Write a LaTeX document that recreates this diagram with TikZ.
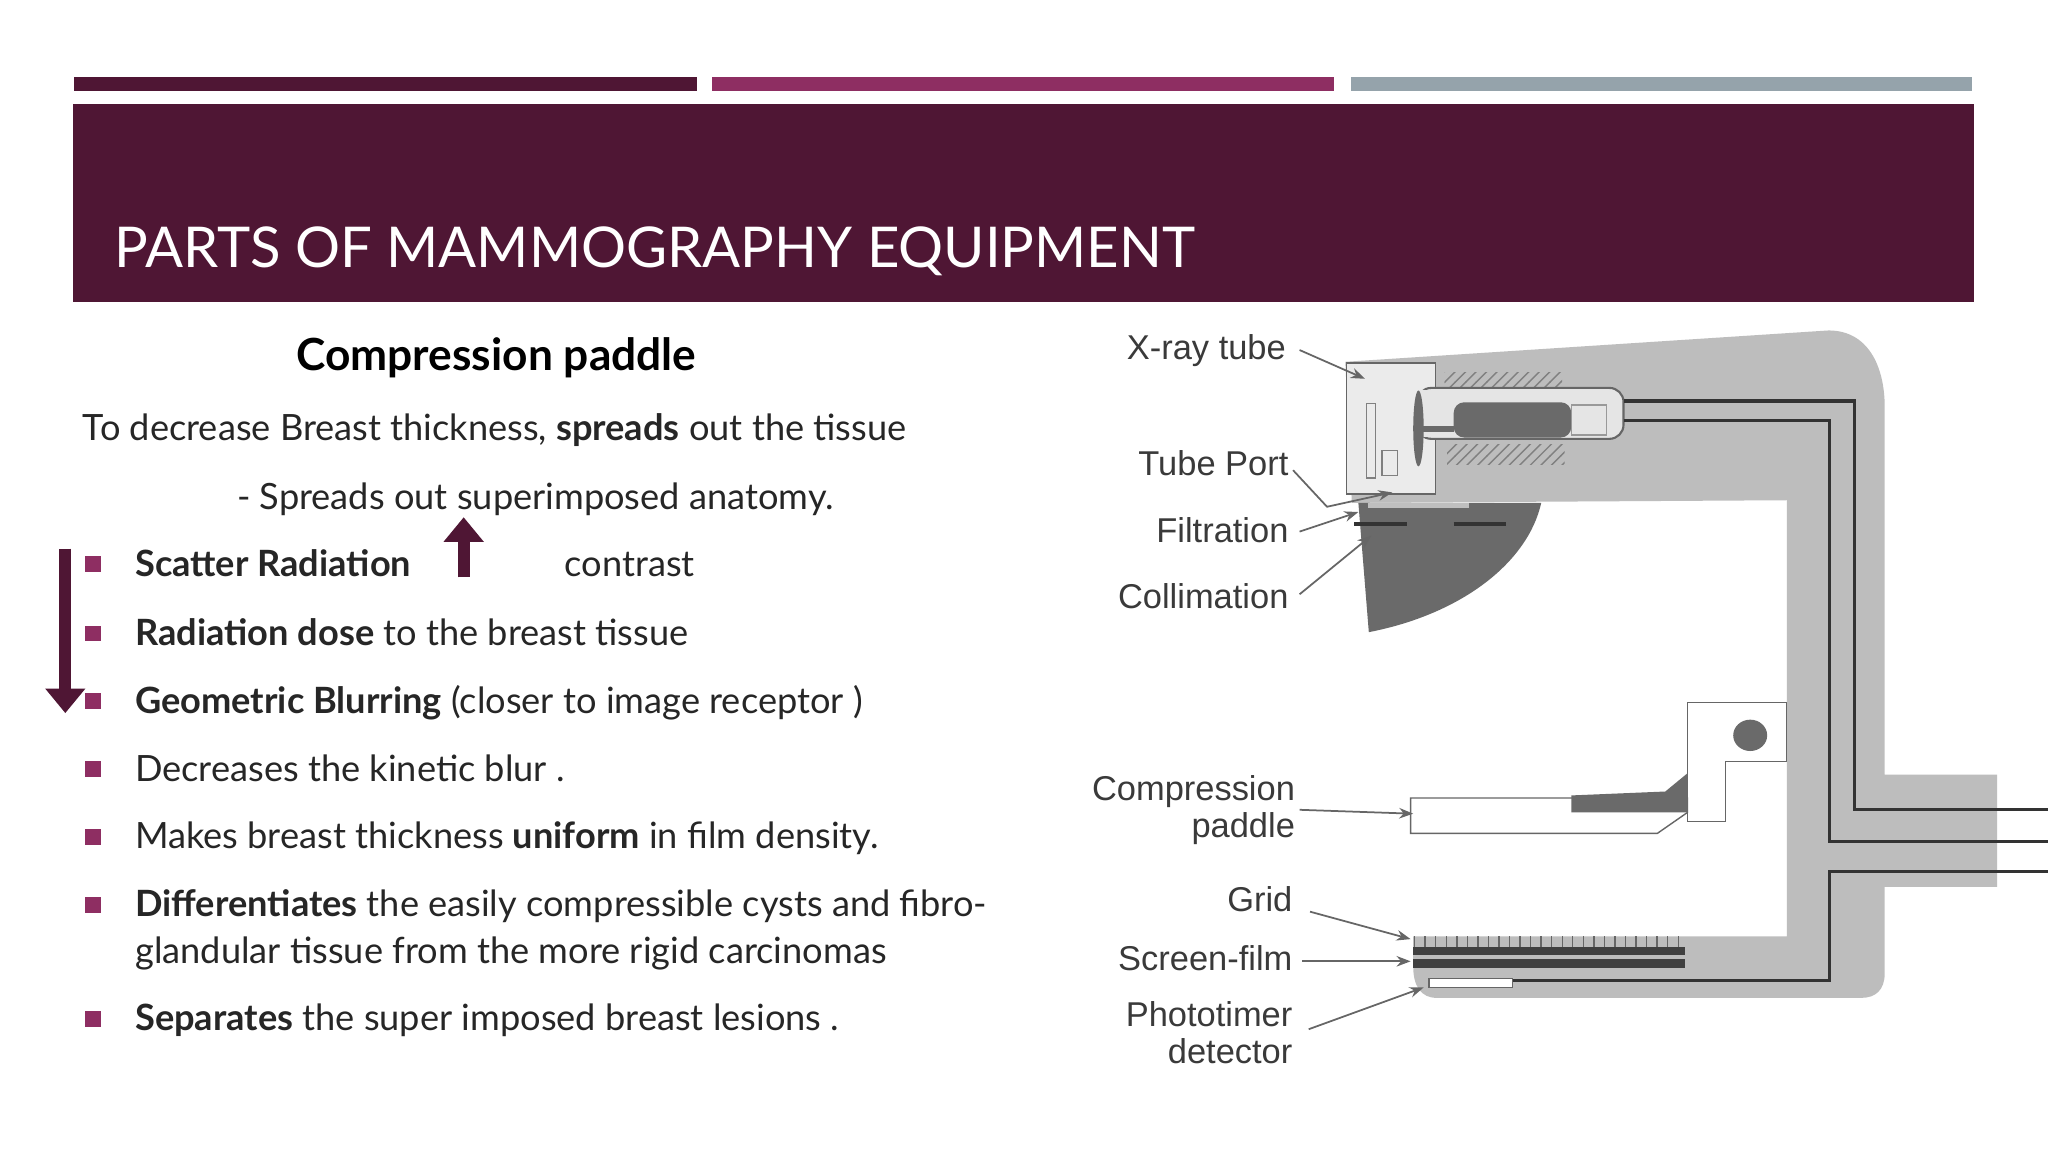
\documentclass[tikz,border=0pt]{standalone}
\usepackage{fontspec}
\setmainfont{Lato}
\newfontfamily\lab{Liberation Sans}
\usetikzlibrary{patterns,arrows.meta}
\definecolor{maroon}{HTML}{4F1634}
\definecolor{berry}{HTML}{8E2E62}
\definecolor{slate}{HTML}{95A3AB}
\definecolor{housing}{HTML}{BDBDBD}
\definecolor{darkg}{HTML}{6A6A6A}
\definecolor{labc}{HTML}{3A3A3A}
\tikzset{
 body/.style={anchor=base west,inner sep=0,font=\fontsize{10.3}{12}\selectfont,text=black!85},
 bul/.style={fill=berry,minimum size=4.5,inner sep=0},
 lbl/.style={anchor=base east,inner sep=0,font=\lab\fontsize{9.8}{10.5}\selectfont,text=labc,align=right},
 lead/.style={draw=black!60,line width=0.5pt,-{Stealth[length=4pt]}},
 bigarrow/.style={draw=maroon,line width=3.4pt,-{Triangle[length=7pt,width=11pt]}},
 ln/.style={draw=black!80,line width=0.9pt}
}
\begin{document}
\begin{tikzpicture}[x=0.013061cm,y=-0.013061cm]
\useasboundingbox (0,0) rectangle (1568,882);
\fill[white] (0,0) rectangle (1568,882);
% header bars
\fill[maroon] (57,59) rectangle (534,70);
\fill[berry] (545,59) rectangle (1021,70);
\fill[slate] (1034,59) rectangle (1510,70);
\fill[maroon] (56,80) rectangle (1511,231);
\node[anchor=base west,inner sep=0,text=white,font=\fontsize{16}{19}\selectfont] (title) at (87,205) {PARTS OF MAMMOGRAPHY EQUIPMENT};
% left text
\node[anchor=base,inner sep=0,font=\bfseries\fontsize{12.6}{14}\selectfont] (head) at (380,284) {Compression paddle};
\node[body] (t1) at (63,337) {To decrease Breast thickness, \textbf{spreads} out the tissue};
\node[body] (t2) at (181,390) {- Spreads out superimposed anatomy.};
\foreach \y/\n in {432/b1,485/b2,537/b3,589/b4,641/b5,693/b6,780/b7}
  \node[bul] (\n) at (71,\y) {};
\node[body] (l1) at (103,441) {\textbf{Scatter Radiation}};
\node[body] (l1b) at (432,441) {contrast};
\node[body] (l2) at (103,494) {\textbf{Radiation dose} to the breast tissue};
\node[body] (l3) at (103,546) {\textbf{Geometric Blurring} (closer to image receptor )};
\node[body] (l4) at (103,598) {Decreases the kinetic blur .};
\node[body] (l5) at (103,650) {Makes breast thickness \textbf{uniform} in film density.};
\node[body] (l6) at (103,702) {\textbf{Differentiates} the easily compressible cysts and fibro-};
\node[body] (l6b) at (103,738) {glandular tissue from the more rigid carcinomas};
\node[body] (l7) at (103,789) {\textbf{Separates} the super imposed breast lesions .};
\coordinate (ua) at (355,442); \coordinate (ub) at (355,396);
\draw[bigarrow] (ua) -- (ub);
\coordinate (da) at (50,420); \coordinate (db) at (50,546);
\draw[bigarrow] (da) -- (db);
% ---------- diagram ----------
\fill[housing] (1030,277) -- (1400,253) .. controls (1430,253) and (1443,280) .. (1443,312)
 -- (1443,593) -- (1529,593) -- (1529,679) -- (1443,679) -- (1443,745)
 .. controls (1443,758) and (1436,764) .. (1425,764) -- (1100,764)
 .. controls (1088,764) and (1082,755) .. (1082,740) -- (1082,717) -- (1368,717)
 -- (1368,383) -- (1035,385) -- cycle;
\fill[darkg] (1040,385) -- (1180,385) .. controls (1170,430) and (1120,470) .. (1048,484) -- cycle;
\fill[black!8] (1031,278) rectangle (1099,378);
\draw[black!60,line width=0.5pt] (1031,278) rectangle (1099,378);
\fill[white,pattern=north east lines,pattern color=black!50] (1106,285) rectangle (1196,297);
\fill[white,pattern=north east lines,pattern color=black!50] (1108,340) rectangle (1198,356);
\filldraw[fill=black!10,draw=black!60,line width=0.6pt,rounded corners=4] (1085,297) rectangle (1243,336);
\fill[black!10] (1085,298.5) rectangle (1099,334.5);
\fill[darkg,rounded corners=3] (1113,308) rectangle (1203,335);
\draw[black!40] (1203,310) rectangle (1230,333);
\fill[darkg] (1085,326) rectangle (1113,331);
\fill[darkg] (1086,328) ellipse (4 and 29);
\draw[black!50] (1046,309) rectangle (1053,366);
\draw[black!50] (1058,345) rectangle (1070,364);
\draw[black!25,line width=1.5pt] (1047,387) -- (1125,387);
\draw[black!80,line width=1pt] (1037,401) -- (1077,401) (1113,401) -- (1153,401);
\draw[ln] (1243,307) -- (1420,307) -- (1420,620) -- (1568,620);
\draw[ln] (1243,322) -- (1401,322) -- (1401,644) -- (1568,644);
\draw[ln] (1158,751) -- (1401,751) -- (1401,667) -- (1568,667);
\filldraw[fill=white,draw=black!60] (1292,538) -- (1368,538) -- (1368,583) -- (1321,583) -- (1321,629) -- (1292,629) -- cycle;
\fill[darkg] (1340,563) ellipse (13 and 12);
\filldraw[fill=white,draw=black!60] (1080,611) -- (1292,611) -- (1292,622) -- (1269,638) -- (1080,638) -- cycle;
\fill[darkg] (1203,609) -- (1275,606) -- (1292,592) -- (1292,622) -- (1203,622) -- cycle;
\fill[pattern=vertical lines,pattern color=black!60] (1082,717) rectangle (1290,725);
\fill[black!75] (1082,725) rectangle (1290,731);
\fill[black!75] (1082,734) rectangle (1290,741);
\filldraw[fill=white,draw=black!60] (1094,749) rectangle (1158,756);
\coordinate (p1) at (1045,290); \coordinate (p2a) at (1016,388); \coordinate (p2) at (1066,377);
\coordinate (p3) at (1040,392); \coordinate (p4) at (1050,410);
\coordinate (p5) at (1082,623); \coordinate (p6) at (1080,719); \coordinate (p7) at (1080,736); \coordinate (p8) at (1090,756);
\node[lbl] (x1) at (985,275) {X-ray tube};
\node[lbl] (x2) at (987,364) {Tube Port};
\node[lbl] (x3) at (987,415) {Filtration};
\node[lbl] (x4) at (987,466) {Collimation};
\node[lbl] (x5) at (992,641) {Compression\\paddle};
\node[lbl] (x6) at (990,698) {Grid};
\node[lbl] (x7) at (990,743) {Screen-film};
\node[lbl] (x8) at (990,814) {Phototimer\\detector};
\draw[lead] (995,268) -- (p1);
\draw[lead] (990,360) -- (p2a) -- (p2);
\draw[lead] (995,407) -- (p3);
\draw[lead] (995,455) -- (p4);
\draw[lead] (995,620) -- (p5);
\draw[lead] (1003,698) -- (p6);
\draw[lead] (997,736) -- (p7);
\draw[lead] (1002,788) -- (p8);
\end{tikzpicture}
\end{document}
